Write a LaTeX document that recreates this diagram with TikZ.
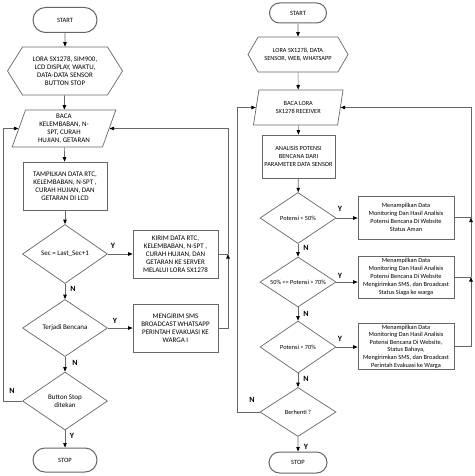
\documentclass[tikz,border=0pt]{standalone}
\usepackage{fontspec}
\setmainfont{Carlito}
\usetikzlibrary{shapes.geometric,shapes.misc,shapes.symbols,arrows.meta}
\begin{document}
\begin{tikzpicture}[x=1pt,y=-1pt,
  line/.style={draw=black!60, line width=0.7pt},
  arr/.style={line, -{Triangle[length=4.5pt,width=3.5pt,color=black]}},
  fL/.style={font=\fontsize{7}{8}\selectfont},
  fR/.style={font=\fontsize{6.3}{8}\selectfont},
  term/.style={line, line width=1pt, rounded rectangle, inner sep=0pt, font=\fontsize{6.5}{8}\selectfont},
  procbox/.style={line, rectangle, align=center, inner sep=0pt},
  hexbox/.style={line, signal, signal to=west and east, align=center, inner sep=0pt},
  iobox/.style={line, trapezium, trapezium stretches=true, align=center, inner sep=0pt},
  decbox/.style={line, diamond, align=center, inner sep=0pt},
  lbl/.style={font=\fontsize{8}{9}\selectfont\bfseries, inner sep=0pt}
]
\useasboundingbox (0,0) rectangle (474,476);

% ---------------- left flowchart ----------------
\node[term, minimum width=64, minimum height=25] (s1) at (65,20) {START};
\node[hexbox, fL, signal pointer angle=116, minimum width=115, minimum height=48] (h1) at (65,71)
  {LORA SX1278, SIM900,\\LCD DISPLAY, WAKTU,\\DATA-DATA SENSOR\\BUTTON STOP};
\node[iobox, fL, trapezium left angle=73, trapezium right angle=107, minimum width=104, minimum height=37] (b1) at (64,128.5)
  {BACA\\KELEMBABAN, N-\\SPT, CURAH\\HUJIAN, GETARAN};
\node[procbox, fL, minimum width=84, minimum height=48] (t1) at (65,186)
  {TAMPILKAN DATA RTC,\\KELEMBABAN, N-SPT ,\\CURAH HUJIAN, DAN\\GETARAN DI LCD};
\node[decbox, fL, aspect=1.44, minimum width=85, minimum height=59] (d1) at (65,254) {Sec = Last\_Sec+1};
\node[procbox, fL, minimum width=85, minimum height=48] (k1) at (175.5,254)
  {KIRIM DATA RTC,\\KELEMBABAN, N-SPT ,\\CURAH HUJIAN, DAN\\GETARAN KE SERVER\\MELALUI LORA SX1278};
\node[decbox, fL, aspect=1.49, minimum width=85, minimum height=57] (d2) at (65,328) {Terjadi Bencana};
\node[procbox, fL, minimum width=85, minimum height=48] (k2) at (175.5,328)
  {MENGIRIM SMS\\BROADCAST WHATSAPP\\PERINTAH EVAKUASI KE\\WARGA I};
\node[decbox, fL, aspect=1.47, minimum width=85, minimum height=58] (d3) at (65,401) {Button Stop\\ditekan};
\node[term, minimum width=64, minimum height=24] (e1) at (65,460) {STOP};

\coordinate (R1) at (228,127);
\coordinate (L1) at (3,127);

\draw[arr] (s1) -- (h1);
\draw[arr] (h1) -- (b1);
\draw[arr] (b1) -- (t1);
\draw[arr] (t1) -- (d1);
\draw[arr] (d1) -- (d2);
\draw[arr] (d2) -- (d3);
\draw[arr] (d3) -- (e1);
\draw[arr] (d1) -- (k1);
\draw[arr] (d2) -- (k2);
\draw[line] (k1.east) -- (k1.east -| R1);
\draw[arr] (k2.east) -- (k2.east -| R1) -- (k1.east -| R1);
\draw[arr] (k1.east -| R1) -- (R1 |- b1.east) -- (b1.east);
\draw[arr] (d3.west) -- (d3.west -| L1) -- (L1 |- b1.west) -- (b1.west);

\node[lbl] (y1) at (113,246) {Y};
\node[lbl] (n1) at (73,289) {N};
\node[lbl] (y2) at (115,321) {Y};
\node[lbl] (n2) at (75,363) {N};
\node[lbl] (n3) at (12,391) {N};
\node[lbl] (y3) at (72,436) {Y};

% ---------------- right flowchart ----------------
\node[term, minimum width=57, minimum height=20] (s2) at (298,13) {START};
\node[hexbox, fR, signal pointer angle=120, minimum width=100, minimum height=35] (h2) at (298,54.5)
  {LORA SX1278, DATA\\SENSOR, WEB, WHATSAPP};
\node[iobox, fR, trapezium left angle=75.6, trapezium right angle=104.4, minimum width=90, minimum height=35] (b2) at (298.25,107.5)
  {BACA LORA\\SX1278 RECEIVER};
\node[procbox, fR, minimum width=73, minimum height=43] (a2) at (298.5,156.5)
  {ANALISIS POTENSI\\BENCANA DARI\\PARAMETER DATA SENSOR};
\node[decbox, fR, aspect=1.49, minimum width=76, minimum height=51] (p1) at (298,218) {Potensi < 50\%};
\node[procbox, fR, minimum width=96, minimum height=43] (m1) at (406,217.5)
  {Menampilkan Data\\Monitoring Dan Hasil Analisis\\Potensi Bencana Di Website\\Status Aman};
\node[decbox, fR, aspect=1.52, minimum width=76, minimum height=50] (p2) at (298,282) {50\% <= Potensi > 70\%};
\node[procbox, fR, minimum width=96, minimum height=42] (m2) at (406,277)
  {Menampilkan Data\\Monitoring Dan Hasil Analisis\\Potensi Bencana Di Website\\Mengirimkan SMS, dan Broadcast\\Status Siaga ke warga};
\node[decbox, fR, aspect=1.46, minimum width=76, minimum height=52] (p3) at (298,347) {Potensi > 70\%};
\node[procbox, font=\fontsize{6.3}{7.6}\selectfont, minimum width=96, minimum height=46] (m3) at (406,346.5)
  {Menampilkan Data\\Monitoring Dan Hasil Analisis\\Potensi Bencana Di Website,\\Status Bahaya,\\Mengirimkan SMS, dan Broadcast\\Perintah Evakuasi ke Warga};
\node[decbox, fR, aspect=1.55, minimum width=76, minimum height=49] (p4) at (298,412) {Berhenti ?};
\node[term, minimum width=58, minimum height=21] (e2) at (298,462.5) {STOP};

\coordinate (R2) at (471,107);
\coordinate (L2) at (237,107);

\draw[arr] (s2) -- (h2);
\draw[arr] (h2) -- (b2);
\draw[arr] (b2) -- (a2);
\draw[arr] (a2) -- (p1);
\draw[arr] (p1) -- (p2);
\draw[arr] (p2) -- (p3);
\draw[arr] (p3) -- (p4);
\draw[arr] (p4) -- (e2);
\draw[arr] (p1.east) -- (p1.east -| m1.west);
\draw[arr] (p2.east) -- (p2.east -| m2.west);
\draw[arr] (p3.east) -- (p3.east -| m3.west);
\draw[line] (m1.east) -- (m1.east -| R2);
\draw[line] (m2.east) -- (m2.east -| R2);
\draw[arr] (m3.east) -- (m3.east -| R2) -- (m2.east -| R2);
\draw[arr] (m2.east -| R2) -- (m1.east -| R2);
\draw[arr] (m1.east -| R2) -- (R2 |- b2.east) -- (b2.east);
\draw[arr] (p4.west) -- (p4.west -| L2) -- (L2 |- b2.west) -- (b2.west);

\node[lbl] (y4) at (340,209) {Y};
\node[lbl] (n4) at (306,248) {N};
\node[lbl] (y5) at (340,276) {Y};
\node[lbl] (n5) at (306,314) {N};
\node[lbl] (y6) at (340,339) {Y};
\node[lbl] (n6) at (306,379) {N};
\node[lbl] (n7) at (252,400) {N};
\node[lbl] (y7) at (306,447) {Y};
\end{tikzpicture}
\end{document}
